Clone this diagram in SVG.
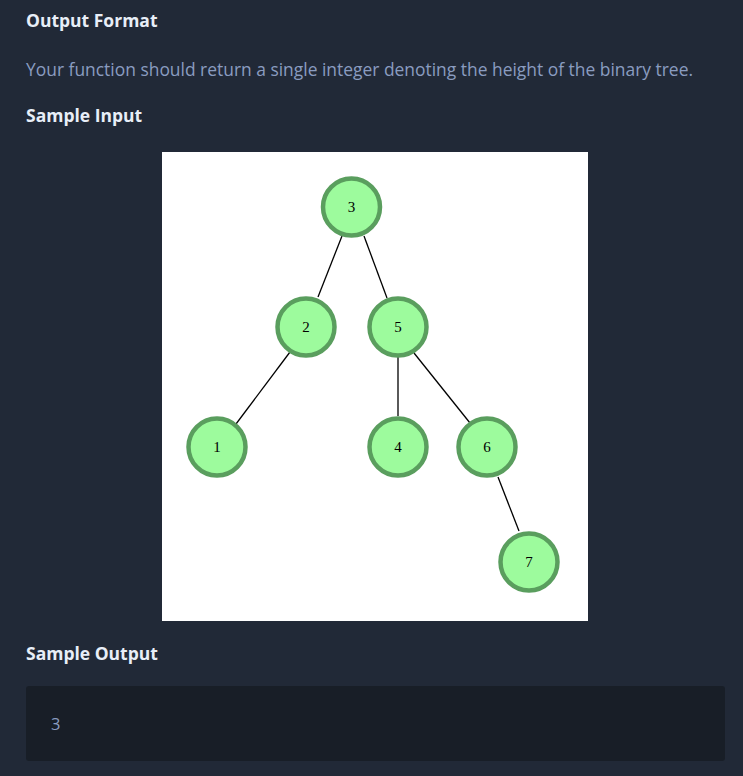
<svg xmlns="http://www.w3.org/2000/svg" width="743" height="776" viewBox="0 0 743 776">
<style>
.h{font-family:"Open Sans","Noto Sans",sans-serif;font-weight:700;font-size:17.5px;fill:#e8eef7}
.p{font-family:"Open Sans","Noto Sans",sans-serif;font-size:17.4px;fill:#8a9cc0}
.n circle{fill:#9dfb9d;stroke:#5a9e5e;stroke-width:4.5}
.n text{font-family:"Liberation Serif","Times New Roman",serif;font-size:15px;fill:#000;text-anchor:middle}
#edges line{stroke:#000;stroke-width:1.3}
</style>
<rect width="743" height="776" fill="#212937"/>
<text class="h" x="26" y="27">Output Format</text>
<text class="p" x="26" y="76" textLength="667" lengthAdjust="spacingAndGlyphs">Your function should return a single integer denoting the height of the binary tree.</text>
<text class="h" x="26" y="122">Sample Input</text>
<rect x="162" y="152" width="426" height="469" fill="#fff"/>
<g id="edges">
<line x1="342" y1="236" x2="318" y2="297"/>
<line x1="364" y1="236" x2="387" y2="298"/>
<line x1="290" y1="352" x2="236" y2="424"/>
<line x1="398" y1="357" x2="398" y2="416"/>
<line x1="414" y1="353" x2="470" y2="423"/>
<line x1="498" y1="477" x2="519" y2="531"/>
</g>
<g id="n3" class="n"><circle cx="351.5" cy="207" r="28.5"/><text x="351.5" y="212">3</text></g>
<g id="n2" class="n"><circle cx="306" cy="327" r="28.5"/><text x="306" y="332">2</text></g>
<g id="n5" class="n"><circle cx="398" cy="327" r="28.5"/><text x="398" y="332">5</text></g>
<g id="n1" class="n"><circle cx="217" cy="447" r="28.5"/><text x="217" y="452">1</text></g>
<g id="n4" class="n"><circle cx="398" cy="447" r="28.5"/><text x="398" y="452">4</text></g>
<g id="n6" class="n"><circle cx="487" cy="447" r="28.5"/><text x="487" y="452">6</text></g>
<g id="n7" class="n"><circle cx="529" cy="562" r="28.5"/><text x="529" y="567">7</text></g>
<text class="h" x="26" y="660">Sample Output</text>
<rect x="26" y="686" width="699" height="75" rx="3" fill="#181e27"/>
<text class="p" x="51" y="730" style="font-size:16.5px">3</text>
</svg>
